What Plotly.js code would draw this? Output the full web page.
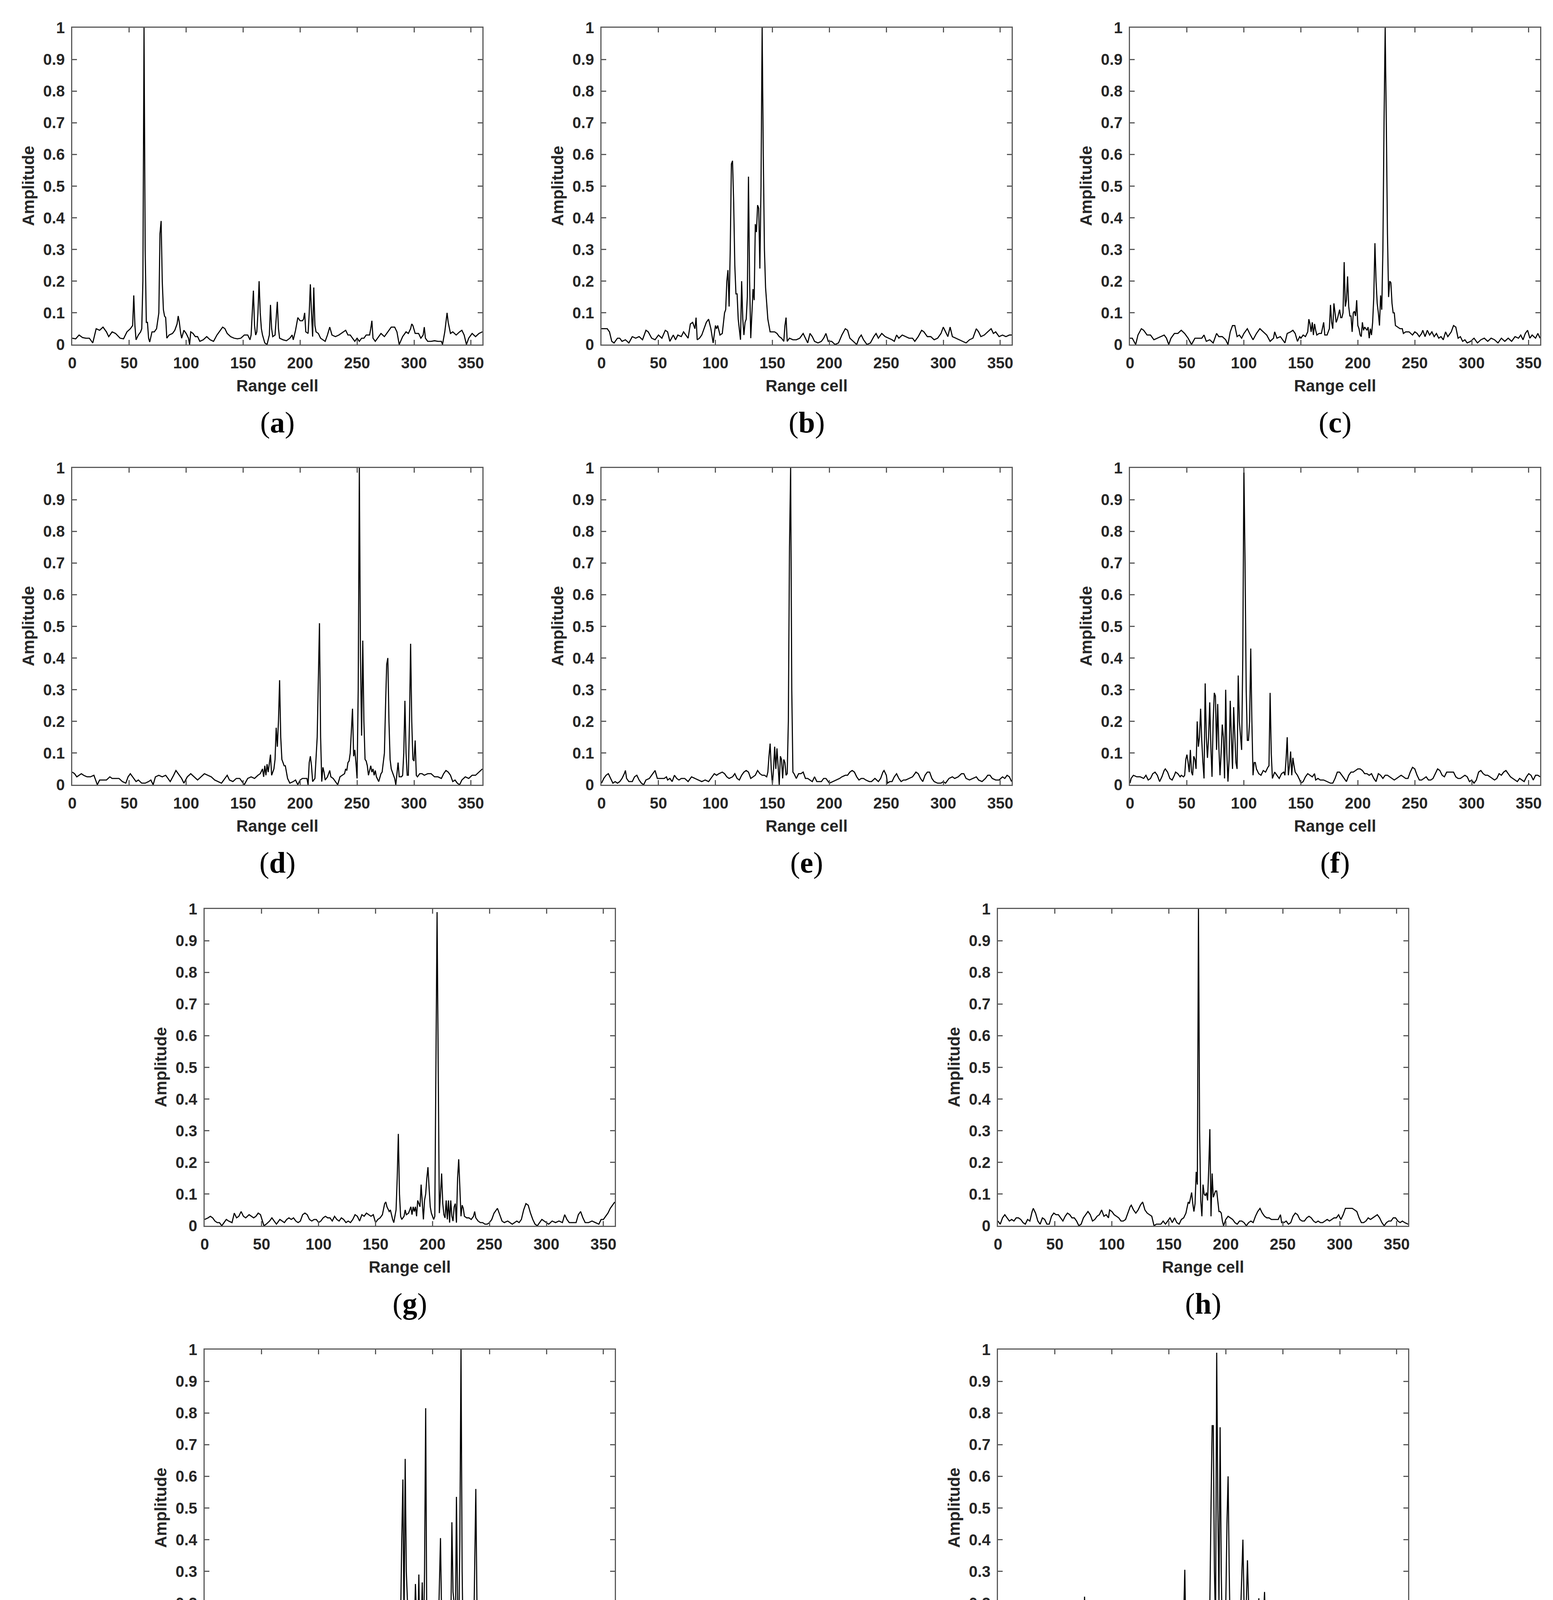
<!DOCTYPE html>
<html><head><meta charset="utf-8">
<script src="https://cdn.plot.ly/plotly-3.0.1.min.js"></script>
<style>html,body{margin:0;padding:0;background:#fff;overflow:hidden}.fig{display:block;width:3976px;height:2263px}</style>
</head><body><div id="top" class="fig"></div><div id="bottom" class="fig"></div>
<script>
// ---- data: [range cell, amplitude] pairs ----
const panelLabels = ["a","b","c","d","e","f","g","h","i","j"];
const xTicks = [0,50,100,150,200,250,300,350];
const yTicks = [0,0.1,0.2,0.3,0.4,0.5,0.6,0.7,0.8,0.9,1];

const seriesA = [[0,.02],[3,.018],[6,.03],[9,.022],[12,.02],[15,.02],[18,.005],[21,.05],[24,.045],[27,.055],[30,.04],[32,.025],[35,.04],[38,.035],[42,.02],[45,.018],[48,.04],[51,.05],[53,.06],[54,.155],[55,.06],[56,.015],[58,.03],[60,.04],[61,.05],[62,.2],[63,1],[64,.3],[65,.07],[66,.07],[67,.02],[68,.008],[70,.04],[72,.04],[74,.05],[76,.1],[77,.35],[78,.39],[79,.2],[80,.11],[81,.09],[82,.085],[83,.02],[85,.03],[88,.035],[90,.045],[92,.065],[93,.09],[94,.07],[95,.04],[96,.02],[98,.045],[100,.035],[102,.02],[103,0],[104,.04],[106,.035],[108,.025],[110,.025],[112,.01],[115,.015],[118,.025],[121,.015],[124,.01],[127,.03],[130,.045],[132,.055],[134,.05],[136,.035],[139,.025],[142,.02],[145,.018],[148,.02],[151,.03],[154,.03],[156,.015],[157,.03],[158,.1],[159,.17],[160,.06],[161,.03],[162,.04],[163,.1],[164,.2],[165,.1],[166,.05],[167,.03],[169,.005],[171,0],[173,.03],[174,.125],[175,.05],[176,.025],[178,.03],[179,.08],[180,.135],[181,.05],[182,.02],[185,.015],[188,.012],[191,.02],[193,.03],[194,.015],[196,.045],[197,.065],[198,.085],[200,.075],[202,.075],[203,.08],[204,.1],[205,.04],[207,.035],[208,.1],[209,.19],[210,.1],[211,.025],[212,.18],[213,.06],[214,.04],[216,.035],[218,.02],[220,.015],[222,.01],[224,.03],[226,.055],[228,.03],[231,.025],[234,.03],[238,.04],[240,.045],[242,.03],[244,.03],[246,.02],[248,.01],[250,.02],[252,.01],[254,.02],[256,.02],[258,.03],[261,.03],[262,.05],[263,.075],[264,.02],[266,.01],[268,.02],[271,.035],[274,.025],[277,.04],[280,.055],[283,.055],[285,.04],[287,0],[290,.025],[293,.04],[295,.035],[297,.05],[298,.065],[299,.06],[301,.035],[304,.035],[306,.02],[308,.03],[309,.055],[310,.02],[312,.01],[315,.01],[318,.012],[321,.01],[324,.01],[325,0],[327,.04],[328,.07],[329,.1],[330,.07],[332,.035],[334,.04],[337,.03],[340,.04],[342,.045],[344,.03],[346,0],[348,.02],[351,.035],[354,.025],[357,.035],[360,.04]];

const seriesB = [[0,.05],[3,.05],[5,.05],[7,.04],[9,.01],[11,.005],[14,.02],[16,.02],[18,.01],[21,.015],[24,.005],[27,.025],[30,.02],[33,.025],[36,.015],[39,.045],[41,.04],[44,.02],[47,.015],[50,.03],[53,.02],[56,.045],[58,.04],[60,.01],[63,.03],[65,.015],[67,.03],[70,.025],[72,.04],[74,.03],[76,.02],[78,.065],[80,.07],[82,.05],[83,.085],[84,.015],[86,.02],[88,.03],[90,.05],[92,.07],[94,.08],[96,.05],[98,.005],[100,.06],[101,.05],[102,.06],[104,.03],[106,.035],[108,.1],[109,.11],[110,.2],[111,.235],[112,.12],[113,.3],[114,.57],[115,.58],[116,.45],[117,.25],[118,.16],[119,.16],[120,.08],[121,.05],[122,.015],[123,.2],[124,.08],[125,.03],[126,.07],[127,.08],[128,.15],[129,.53],[130,.2],[131,.02],[132,.1],[133,.175],[134,.14],[135,.38],[136,.355],[137,.44],[138,.43],[139,.24],[140,.5],[141,1],[142,.6],[143,.3],[144,.18],[145,.13],[146,.08],[147,.06],[148,.04],[150,.04],[152,.04],[154,.035],[156,.025],[158,.02],[160,.01],[161,.06],[162,.085],[163,.01],[165,.02],[168,.015],[171,.015],[174,.02],[177,.035],[179,.02],[181,.005],[183,.035],[185,.025],[187,.01],[190,.005],[193,.01],[195,.02],[197,.035],[199,.01],[202,.01],[205,0],[208,.005],[211,.03],[214,.05],[216,.045],[218,.02],[221,.01],[224,0],[226,.02],[228,.03],[230,.015],[233,0],[236,.005],[239,.025],[241,.035],[243,.02],[246,.035],[249,.025],[252,.02],[255,.015],[257,.01],[259,.03],[261,.02],[264,.03],[267,.025],[270,.02],[273,.02],[275,.01],[278,.025],[281,.045],[283,.04],[286,.025],[289,.025],[292,.015],[295,.02],[298,.035],[300,.055],[302,.04],[304,.025],[306,.055],[308,.025],[311,.02],[314,.015],[317,.01],[320,.005],[323,.015],[326,.02],[329,.05],[331,.04],[333,.025],[336,.03],[339,.04],[342,.05],[344,.035],[346,.04],[349,.025],[352,.03],[355,.025],[358,.03],[360,.03]];

const seriesC = [[0,.02],[2,.02],[5,0],[7,.03],[10,.05],[12,.045],[15,.03],[18,.03],[21,.015],[24,.02],[27,.025],[30,.03],[32,.02],[34,0],[36,.02],[39,.035],[42,.035],[45,.045],[48,.035],[51,.02],[54,0],[57,.02],[60,.02],[63,.02],[65,.03],[67,.01],[70,.015],[73,.005],[76,.035],[78,.025],[81,.025],[84,.015],[86,0],[88,.04],[90,.06],[92,.06],[94,.025],[96,.03],[98,.02],[100,.035],[103,.05],[105,.035],[108,.015],[111,.035],[114,.05],[117,.04],[120,.03],[123,.01],[126,.02],[127,.04],[129,.02],[132,.025],[134,.015],[136,.005],[138,.035],[141,.04],[143,.045],[145,.035],[147,.01],[149,.025],[150,.02],[152,.03],[154,.025],[156,.04],[157,.08],[158,.065],[159,.04],[160,.07],[161,.03],[162,.065],[163,.045],[164,.03],[166,.035],[168,.035],[170,.07],[171,.03],[173,.03],[175,.05],[176,.125],[177,.07],[178,.05],[179,.13],[180,.1],[181,.07],[182,.08],[184,.11],[185,.085],[186,.085],[187,.1],[188,.26],[189,.12],[190,.14],[191,.215],[192,.12],[193,.09],[194,.09],[195,.04],[196,.1],[197,.105],[198,.09],[199,.14],[200,.06],[201,.05],[202,.03],[203,.025],[204,.07],[205,.045],[206,.055],[207,.05],[208,.045],[209,.055],[210,.02],[211,.05],[212,.03],[213,.07],[214,.15],[215,.32],[216,.2],[217,.13],[218,.1],[219,.06],[220,.155],[221,.11],[222,.3],[223,.7],[224,1],[225,.7],[226,.35],[227,.15],[228,.2],[229,.195],[230,.13],[231,.1],[232,.1],[233,.06],[235,.055],[237,.05],[239,.05],[240,.035],[242,.04],[245,.04],[248,.03],[250,.04],[252,.035],[254,.025],[256,.035],[257,.045],[259,.025],[261,.045],[263,.03],[265,.04],[267,.025],[269,.035],[271,.02],[273,.025],[275,.015],[277,.04],[279,.025],[282,.04],[284,.06],[286,.055],[288,.02],[290,.025],[292,.01],[294,.015],[296,.005],[299,.01],[302,.02],[305,.005],[308,.015],[311,.02],[314,.01],[317,.02],[320,.015],[323,.005],[326,.02],[329,.01],[332,.02],[335,.01],[338,.025],[341,.02],[343,.03],[345,.015],[347,.035],[349,.045],[351,.02],[353,.03],[356,.02],[358,.035],[360,.02]];

const seriesD = [[0,.04],[2,.035],[4,.025],[6,.03],[8,.035],[10,.03],[13,.025],[16,.025],[19,.03],[21,.01],[22,0],[24,.015],[27,.015],[30,.015],[33,.025],[35,.02],[38,.02],[41,.02],[44,.01],[47,.005],[49,.025],[51,.035],[53,.025],[56,.01],[58,.015],[61,.005],[64,.005],[67,.01],[69,.015],[71,0],[73,.025],[76,.03],[79,.025],[82,.03],[84,.02],[86,.01],[89,.03],[91,.045],[93,.035],[96,.02],[98,.005],[101,.025],[104,.035],[107,.025],[110,.015],[113,.025],[116,.035],[119,.03],[122,.025],[125,.015],[128,.01],[131,.005],[134,.02],[136,.03],[138,.015],[141,.01],[144,.02],[147,.02],[150,.005],[151,0],[154,.02],[157,.025],[160,.02],[163,.03],[165,.035],[167,.05],[168,.025],[169,.06],[170,.03],[171,.065],[172,.04],[173,.07],[174,.095],[175,.03],[177,.05],[178,.08],[179,.18],[180,.12],[181,.2],[182,.33],[183,.15],[184,.08],[185,.07],[186,.06],[187,.06],[189,.02],[191,.005],[194,.01],[196,.015],[198,0],[200,.015],[202,.02],[204,.02],[206,.02],[207,0],[208,.07],[209,.09],[210,.06],[211,.01],[213,.02],[215,.15],[216,.35],[217,.51],[218,.15],[219,.01],[220,.055],[221,.04],[222,.015],[224,.025],[226,.045],[227,.025],[229,.02],[231,.01],[233,0],[235,.025],[237,.03],[239,.035],[240,.05],[241,.045],[242,.07],[243,.075],[244,.1],[245,.18],[246,.24],[247,.09],[248,.11],[249,.07],[250,.02],[251,.3],[252,1],[253,.4],[254,.155],[255,.455],[256,.2],[257,.08],[258,.075],[259,.06],[260,.03],[262,.06],[263,.04],[264,.05],[265,.03],[266,.045],[267,.025],[269,.01],[271,.035],[272,.04],[274,.1],[275,.25],[276,.38],[277,.4],[278,.2],[279,.08],[280,.05],[282,.03],[283,.02],[284,0],[285,.04],[286,.07],[287,.025],[289,.025],[290,.03],[291,.1],[292,.265],[293,.1],[294,.03],[295,.03],[296,.2],[297,.445],[298,.2],[299,.08],[300,.075],[301,.14],[302,.03],[303,.025],[305,.035],[307,.035],[309,.03],[312,.035],[315,.035],[318,.025],[321,.025],[324,.02],[326,.035],[328,.045],[330,.04],[332,.03],[334,.01],[336,.015],[338,.005],[340,0],[342,.015],[345,.025],[348,.02],[351,.03],[354,.03],[357,.04],[360,.05]];

const seriesE = [[0,.005],[2,.02],[4,.03],[6,.035],[8,.02],[10,.005],[12,.01],[14,.005],[16,.01],[18,.02],[20,.035],[21,.045],[22,.02],[24,.01],[27,.01],[29,.025],[31,.03],[33,.015],[35,.005],[37,0],[39,.015],[42,.02],[44,.03],[46,.04],[47,.045],[49,.02],[52,.02],[55,.02],[57,.025],[58,.015],[60,.02],[62,.01],[64,.03],[66,.02],[68,.015],[70,.02],[73,.02],[76,.01],[79,.025],[82,.02],[85,.015],[88,.01],[91,.015],[94,.01],[97,.025],[99,.035],[101,.03],[103,.035],[106,.04],[108,.035],[110,.025],[112,.02],[115,.025],[117,.035],[119,.02],[121,.015],[123,.03],[125,.04],[127,.045],[129,.04],[131,.02],[133,.025],[135,.03],[137,.045],[139,.035],[141,.03],[143,.03],[145,.025],[146,.04],[147,.09],[148,.13],[149,.05],[150,0],[151,.05],[152,.12],[153,.05],[154,.115],[155,.06],[156,0],[157,.09],[158,.08],[159,.02],[160,.08],[161,.07],[162,.03],[163,.035],[164,.2],[165,.75],[166,1],[167,.3],[168,.04],[169,.035],[171,.02],[173,.035],[175,.035],[177,.04],[179,.02],[181,.02],[183,.015],[185,.01],[187,.025],[189,.01],[191,.01],[193,.01],[195,.02],[197,.02],[200,.005],[203,.01],[206,.015],[209,.02],[211,.025],[214,.03],[216,.03],[218,.04],[220,.045],[222,.04],[224,.025],[226,.015],[228,.02],[230,.02],[232,.015],[235,.01],[237,.01],[240,.02],[243,.01],[245,.02],[247,.04],[248,.045],[250,.03],[251,.005],[253,.01],[255,.01],[257,.025],[259,.035],[261,.02],[263,.01],[265,.015],[267,.015],[270,.02],[273,.025],[276,.04],[278,.035],[280,.02],[282,.01],[284,.03],[286,.04],[288,.04],[290,.02],[292,.01],[295,.005],[298,.005],[300,.01],[302,.005],[305,.02],[308,.025],[310,.02],[313,.025],[316,.035],[318,.035],[320,.02],[323,.015],[326,.02],[329,.025],[331,.015],[334,.01],[337,.02],[339,.03],[341,.03],[343,.02],[346,.015],[349,.015],[352,.025],[354,.02],[356,.03],[358,.025],[360,.01]];

const seriesF = [[0,.005],[1,.02],[3,.03],[6,.025],[9,.025],[12,.02],[14,.03],[16,.015],[18,.02],[20,.035],[22,.04],[24,.03],[26,.01],[28,.025],[30,.045],[31,.05],[33,.04],[35,.02],[37,.015],[39,.03],[40,.04],[42,.035],[44,.025],[45,.03],[47,.025],[48,.03],[49,.08],[50,.095],[51,.07],[52,.04],[53,.11],[54,.04],[55,.03],[56,.09],[57,.08],[58,.05],[59,.2],[60,.12],[61,.15],[62,.24],[63,.14],[64,.07],[65,.02],[66,.32],[67,.15],[68,.085],[69,.15],[70,.26],[71,.12],[72,.025],[73,.2],[74,.29],[75,.28],[76,.11],[77,.255],[78,.12],[79,.03],[80,.1],[81,.19],[82,.15],[83,.02],[84,.3],[85,.1],[86,.01],[87,.08],[88,.265],[89,.15],[90,.05],[91,.245],[92,.15],[93,.07],[94,.05],[95,.345],[96,.2],[97,.16],[98,.11],[99,.4],[100,1],[101,.7],[102,.3],[103,.14],[104,.14],[105,.2],[106,.43],[107,.2],[108,.03],[109,.07],[110,.07],[111,.05],[113,.035],[115,.03],[117,.045],[119,.04],[121,.055],[122,.06],[123,.29],[124,.1],[125,.02],[127,.04],[129,.03],[131,.02],[133,.035],[135,.04],[136,.03],[137,.08],[138,.15],[139,.03],[140,.06],[141,.105],[142,.03],[143,.085],[144,.06],[145,.04],[147,.03],[149,.015],[150,.005],[152,.01],[154,.025],[156,.035],[158,.03],[160,.025],[162,.035],[163,.015],[165,.02],[167,.015],[170,.015],[173,.01],[176,.005],[178,.005],[180,.02],[182,.04],[184,.04],[186,.03],[188,.02],[190,.01],[192,.03],[194,.04],[196,.04],[198,.045],[200,.05],[202,.05],[204,.045],[206,.035],[208,.035],[210,.03],[212,.035],[214,.02],[216,.01],[218,.035],[220,.03],[222,.02],[224,.03],[226,.03],[228,.025],[230,.02],[232,.015],[234,.02],[236,.025],[238,.03],[240,.025],[242,.02],[244,.02],[246,.04],[248,.055],[250,.05],[252,.03],[254,.015],[256,.015],[258,.02],[260,.025],[262,.015],[264,.015],[266,.02],[268,.035],[270,.05],[272,.045],[274,.03],[276,.025],[278,.04],[280,.04],[282,.04],[284,.04],[286,.025],[288,.02],[290,.02],[292,.025],[294,.03],[296,.025],[298,.01],[300,.015],[302,.005],[304,.015],[306,.04],[308,.045],[310,.035],[312,.03],[314,.03],[316,.025],[318,.02],[320,.015],[322,.02],[324,.035],[326,.03],[328,.04],[330,.045],[332,.035],[334,.025],[336,.02],[338,.015],[340,.01],[342,.02],[344,.015],[346,.01],[348,.025],[350,.035],[352,.03],[354,.015],[356,.03],[358,.03],[360,.025]];

const seriesG = [[0,.02],[3,.025],[5,.03],[7,.025],[9,.015],[11,.01],[13,.01],[15,0],[17,.01],[19,.02],[21,.015],[24,.01],[26,.04],[28,.025],[30,.03],[32,.045],[34,.03],[36,.025],[39,.035],[41,.03],[43,.025],[45,.03],[47,.04],[49,.035],[51,.01],[52,0],[54,.005],[57,.015],[59,.025],[61,.015],[63,.005],[66,.02],[68,.015],[70,.01],[72,.02],[74,.025],[76,.02],[78,.025],[80,.015],[82,.01],[84,.015],[86,.035],[88,.04],[90,.035],[92,.02],[94,.015],[96,.02],[98,.02],[100,.01],[102,.015],[104,.025],[106,.03],[108,.025],[110,.025],[112,.015],[114,.03],[116,.02],[118,.015],[120,.025],[122,.02],[124,.01],[126,.015],[128,.01],[130,.02],[132,.035],[134,.03],[136,.015],[138,.035],[140,.03],[142,.04],[144,.035],[146,.03],[148,.035],[150,.01],[152,.02],[154,.025],[156,.035],[158,.07],[159,.075],[160,.06],[162,.045],[163,.05],[165,.02],[166,.01],[167,.03],[168,.05],[169,.15],[170,.29],[171,.1],[172,.03],[173,.02],[175,.03],[176,.05],[177,.035],[179,.04],[181,.06],[182,.035],[183,.06],[184,.045],[185,.06],[186,.03],[187,.08],[188,.07],[189,.06],[190,.13],[191,.07],[192,.02],[193,.08],[194,.1],[195,.15],[196,.185],[197,.12],[198,.06],[199,.04],[200,.03],[201,.02],[202,.03],[203,.5],[204,.99],[205,.5],[206,.04],[207,.1],[208,.165],[209,.07],[210,.035],[211,.025],[212,.08],[213,.02],[214,.08],[215,.01],[216,.08],[217,.03],[218,.015],[219,.06],[220,.07],[221,.01],[222,.15],[223,.21],[224,.12],[225,.03],[226,.065],[227,.055],[228,.03],[230,.025],[232,.025],[234,.02],[236,.03],[237,.045],[238,.025],[240,.015],[242,.01],[244,.01],[246,.005],[248,.005],[250,.01],[252,.02],[254,.04],[256,.05],[257,.055],[259,.035],[261,.015],[263,.01],[266,.015],[268,.01],[270,.005],[272,.01],[274,.015],[276,.01],[278,.02],[280,.05],[282,.07],[284,.065],[286,.04],[288,.02],[290,.005],[292,0],[294,.01],[296,.02],[298,.015],[300,.01],[302,.005],[305,.015],[308,.01],[311,.015],[314,.01],[316,.035],[318,.02],[320,.01],[323,.01],[326,.01],[328,.035],[330,.045],[332,.025],[334,.01],[337,.01],[340,.015],[343,.01],[346,.005],[348,.02],[350,.02],[352,.03],[354,.04],[356,.055],[358,.065],[360,.075]];

const seriesH = [[0,.015],[2,.005],[4,.025],[6,.035],[8,.025],[10,.015],[12,.02],[14,.015],[16,.025],[18,.025],[20,.02],[22,.01],[24,.005],[26,.02],[28,.015],[30,.045],[31,.055],[33,.04],[35,.015],[37,.005],[39,.025],[41,.02],[43,.005],[45,.005],[47,.03],[49,.04],[51,.035],[53,.035],[55,.025],[57,.015],[59,.03],[61,.04],[63,.035],[65,.025],[67,.025],[69,.015],[71,0],[73,.005],[75,.025],[77,.035],[79,.045],[81,.035],[83,.015],[85,.02],[87,.03],[89,.035],[91,.05],[93,.03],[95,.035],[97,.025],[98,.05],[100,.045],[102,.035],[104,.03],[106,.025],[108,.015],[110,.015],[112,.02],[114,.04],[116,.06],[117,.065],[119,.05],[121,.04],[123,.05],[125,.065],[127,.075],[129,.05],[131,.04],[133,.035],[135,.03],[137,0],[139,.005],[141,.005],[143,.005],[145,.015],[147,.005],[149,.015],[151,.025],[153,.01],[155,.025],[157,.01],[159,.005],[161,.02],[163,.025],[165,.04],[166,.06],[167,.075],[168,.07],[169,.09],[170,.105],[171,.07],[172,.045],[173,.07],[174,.17],[175,.13],[176,1],[177,.3],[178,.08],[179,.03],[180,.13],[181,.1],[182,.095],[183,.105],[184,.08],[185,.18],[186,.305],[187,.03],[188,.165],[189,.09],[190,.1],[191,.11],[192,.11],[193,.08],[194,.045],[195,.045],[196,.04],[197,.015],[198,0],[200,.02],[202,.03],[204,.025],[206,.02],[208,.01],[210,.005],[212,.015],[214,.015],[216,.01],[218,0],[220,.01],[222,.015],[224,.01],[226,.03],[228,.045],[230,.055],[232,.04],[234,.03],[236,.025],[238,.025],[240,.02],[242,.02],[244,.02],[246,.02],[248,.035],[249,.01],[251,.01],[253,.015],[255,.005],[257,.01],[259,.03],[261,.04],[263,.035],[265,.02],[267,.015],[269,.015],[271,.025],[273,.03],[275,.025],[277,.015],[279,.01],[281,.015],[283,.01],[285,.01],[287,.015],[289,.02],[291,.015],[293,.02],[295,.025],[297,.025],[299,.035],[301,.02],[303,.035],[305,.055],[307,.055],[309,.055],[311,.055],[313,.05],[315,.045],[317,.025],[319,.01],[321,.01],[323,.015],[325,.025],[327,.02],[329,.025],[331,.03],[333,.035],[335,.025],[337,.01],[339,0],[341,.01],[343,.015],[345,.015],[347,.025],[349,.025],[351,.015],[353,.01],[355,.015],[357,.01],[360,.005]];

const seriesI = [[0,.03],[2,.025],[4,.025],[6,.03],[8,.035],[10,.025],[12,.015],[14,.015],[16,.015],[18,.01],[19,0],[21,.035],[23,.04],[25,.025],[27,.015],[29,.02],[31,.025],[33,.02],[35,.01],[37,.015],[39,.02],[41,.02],[43,.015],[45,.01],[47,.005],[49,.03],[50,.025],[52,.015],[54,.025],[56,.03],[58,.02],[60,.01],[62,0],[64,.01],[66,.035],[67,.04],[69,.03],[71,.025],[73,.01],[75,.015],[77,.025],[79,.02],[81,.01],[83,.01],[85,.02],[87,.015],[89,.01],[91,.005],[93,.015],[95,.025],[97,.02],[99,.01],[101,.005],[103,.005],[105,0],[107,.005],[109,.015],[111,.03],[113,.02],[115,.04],[117,.055],[119,.045],[121,.03],[123,.02],[124,.09],[125,.17],[126,.07],[127,.02],[129,.015],[131,.025],[133,.04],[135,.045],[137,.045],[139,.045],[141,.04],[143,.01],[144,0],[146,.02],[148,.015],[150,.02],[152,.025],[153,.015],[155,.035],[157,.04],[159,.035],[160,.03],[162,.03],[164,.05],[166,.07],[168,.075],[170,.08],[171,.1],[172,.15],[173,.4],[174,.59],[175,.12],[176,.655],[177,.3],[178,.205],[179,.06],[180,.025],[181,.06],[182,.145],[183,.02],[184,.1],[185,.26],[186,.15],[187,.09],[188,.29],[189,.01],[190,.1],[191,.265],[192,.045],[193,.3],[194,.815],[195,.1],[196,.125],[197,.055],[198,.06],[199,.09],[200,.12],[201,.19],[202,.07],[203,.05],[204,.06],[205,.1],[206,.25],[207,.405],[208,.15],[209,.1],[210,.09],[211,.2],[212,.03],[213,.04],[214,.06],[215,.09],[216,.1],[217,.455],[218,.235],[219,.2],[220,.065],[221,.535],[222,.2],[223,.09],[224,.4],[225,1],[226,.3],[227,.04],[228,.035],[229,.05],[230,.075],[231,.08],[232,.095],[233,.03],[234,.11],[235,.05],[236,.06],[237,.3],[238,.56],[239,.2],[240,.015],[241,.06],[242,.07],[243,.13],[244,.025],[245,.03],[246,.05],[247,.07],[248,.05],[249,.045],[250,.065],[251,.05],[252,.045],[253,.05],[254,.06],[255,.175],[256,.06],[257,.05],[258,.045],[259,.055],[260,.04],[262,.03],[264,.015],[266,.01],[268,.02],[270,.025],[272,.03],[274,.025],[276,.03],[278,.02],[280,.015],[282,.025],[284,.035],[286,.035],[288,.025],[290,.02],[292,.025],[294,.035],[296,.03],[298,.015],[300,0],[302,.015],[304,.025],[306,.025],[308,.01],[310,.01],[312,.03],[314,.035],[316,.02],[318,.025],[320,.05],[322,.065],[324,.06],[326,.04],[328,.02],[330,.005],[332,0],[334,.01],[336,.015],[338,.025],[340,.015],[342,.02],[344,.02],[346,.025],[348,.03],[350,.03],[352,.025],[354,.015],[356,.025],[358,.03],[360,.03]];

const seriesJ = [[0,.035],[2,.035],[4,.03],[6,.01],[7,.005],[9,.02],[11,.035],[13,.04],[15,.045],[17,.035],[19,.035],[21,.025],[22,.005],[24,.01],[26,.015],[28,.015],[30,.02],[32,.02],[34,.02],[36,.025],[38,.02],[40,.01],[42,.03],[44,.05],[46,.06],[48,.06],[50,.05],[52,.025],[54,.02],[56,.025],[58,.025],[60,.015],[62,.005],[64,.005],[66,.02],[67,.03],[69,.025],[70,.01],[72,.02],[73,.04],[74,.015],[75,.05],[76,.22],[77,.05],[78,.035],[80,.03],[82,.02],[84,.005],[86,0],[88,.01],[90,.025],[92,.03],[94,.025],[96,.015],[98,.005],[100,.01],[102,.025],[104,.02],[106,.01],[108,.015],[110,.01],[112,.005],[114,.015],[116,.015],[118,.01],[120,.015],[122,.01],[124,.04],[125,.05],[127,.04],[129,.035],[131,.035],[133,.02],[135,.05],[136,.1],[137,.07],[138,.03],[140,.03],[142,.025],[144,.045],[145,.05],[146,.005],[147,.03],[149,.02],[150,.005],[151,.03],[152,.02],[153,.1],[154,.18],[155,.2],[156,.07],[157,.11],[158,.085],[159,.055],[160,.12],[161,.155],[162,.105],[163,.15],[164,.305],[165,.075],[166,.165],[167,.16],[168,.075],[169,.12],[170,.175],[171,.1],[172,.065],[173,.075],[175,.09],[176,.085],[178,.07],[179,.085],[180,.09],[181,.035],[182,.06],[183,.11],[184,.08],[185,.08],[186,.2],[187,.5],[188,.76],[189,.76],[190,.3],[191,.125],[192,.99],[193,.5],[194,.2],[195,.755],[196,.3],[197,.07],[198,.12],[199,.13],[200,.2],[201,.45],[202,.6],[203,.3],[204,.06],[205,.04],[206,.02],[207,.01],[208,0],[209,.005],[210,.06],[211,.155],[212,.16],[213,.17],[214,.3],[215,.4],[216,.2],[217,.07],[218,.2],[219,.335],[220,.2],[221,.05],[222,.055],[223,.1],[224,.145],[225,.1],[226,.065],[227,.1],[228,.15],[229,.215],[230,.04],[231,.03],[232,.05],[233,.15],[234,.235],[235,.1],[236,.075],[238,.075],[240,.07],[241,.06],[242,.05],[244,.035],[246,.03],[248,.01],[249,0],[251,.02],[252,.045],[254,.04],[256,.045],[257,.025],[258,.05],[260,.005],[261,0],[263,.015],[265,.035],[267,.05],[269,.05],[271,.045],[273,.035],[275,.03],[277,.02],[279,.01],[281,.015],[283,.005],[285,.01],[287,.01],[289,.015],[291,.025],[293,.015],[295,.015],[297,.02],[299,.025],[301,.02],[303,.02],[305,.025],[307,.035],[309,.045],[311,.03],[313,.02],[315,.015],[317,.01],[319,.025],[321,.035],[323,.035],[325,.02],[327,.005],[329,.01],[331,.005],[333,.01],[335,.015],[337,.015],[339,.01],[341,.01],[343,.015],[345,.02],[347,.03],[349,.035],[351,.025],[353,.04],[355,.035],[357,.045],[360,.06]];

const allSeries = [seriesA,seriesB,seriesC,seriesD,seriesE,seriesF,seriesG,seriesH,seriesI,seriesJ];

// ---- layout geometry (page pixels) ----
const W = 3976, H = 4526, SPLIT = 2263;
const PW = 1050, PH = 811;
// [left, top] of each plot area on the full page
const boxes = [[185,71],[1540,71],[2893,71],[185,1198],[1540,1198],[2893,1198],[524,2327],[2555,2327],[524,3455],[2555,3455]];

const tickFont = {family:"Liberation Sans, Arial, sans-serif", size:40, color:"#262626", weight:"bold"};
const titleFont = {family:"Liberation Sans, Arial, sans-serif", size:42, color:"#262626", weight:"bold"};

function buildFigure(divId, indices, offsetY, figH) {
  const data = [];
  const layout = {
    width: W, height: figH, autosize:false,
    margin:{l:0,r:0,t:0,b:0,pad:0},
    paper_bgcolor:"#ffffff", plot_bgcolor:"#ffffff",
    showlegend:false, annotations:[]
  };
  indices.forEach((i, k) => {
    const s = allSeries[i];
    const n = k === 0 ? "" : String(k+1);
    data.push({
      type:"scatter", mode:"lines",
      x: s.map(p => p[0]), y: s.map(p => p[1]),
      xaxis:"x"+n, yaxis:"y"+n,
      line:{color:"#000000", width:2.8},
      hoverinfo:"skip"
    });
    const L = boxes[i][0], T = boxes[i][1] - offsetY;
    const common = {
      showline:true, linecolor:"#5a5a5a", linewidth:3, mirror:"ticks",
      ticks:"inside", ticklen:12, tickwidth:3, tickcolor:"#5a5a5a",
      showgrid:false, zeroline:false, tickfont:tickFont, fixedrange:true
    };
    layout["xaxis"+n] = Object.assign({}, common, {
      domain:[L/W, (L+PW)/W], anchor:"y"+n, range:[0,360],
      tickmode:"array", tickvals:xTicks, ticktext:xTicks.map(String), ticklabelstandoff:10
    });
    layout["yaxis"+n] = Object.assign({}, common, {
      domain:[1-(T+PH)/figH, 1-T/figH], anchor:"x"+n, range:[0,1],
      tickmode:"array", tickvals:yTicks, ticktext:yTicks.map(v => String(v)), ticklabelstandoff:8
    });
    const cx = (L + PW/2)/W;
    const bottom = T + PH;
    layout.annotations.push({
      xref:"paper", yref:"paper", x:cx, y:1-(bottom+105)/figH, xanchor:"center", yanchor:"middle",
      text:"Range cell", showarrow:false, font:titleFont
    });
    layout.annotations.push({
      xref:"paper", yref:"paper", x:(L-113)/W, y:1-(T+PH/2)/figH, xanchor:"center", yanchor:"middle",
      text:"Amplitude", textangle:-90, showarrow:false, font:titleFont
    });
    layout.annotations.push({
      xref:"paper", yref:"paper", x:cx, y:1-(bottom+199)/figH, xanchor:"center", yanchor:"middle",
      text:"(<b>"+panelLabels[i]+"</b>)", showarrow:false,
      font:{family:"Liberation Serif, Times New Roman, serif", size:76, color:"#000000"}
    });
  });
  Plotly.newPlot(divId, data, layout, {staticPlot:true, displayModeBar:false});
}

buildFigure("top", [0,1,2,3,4,5], 0, SPLIT);
buildFigure("bottom", [6,7,8,9], SPLIT, H - SPLIT);
</script>
</body></html>
